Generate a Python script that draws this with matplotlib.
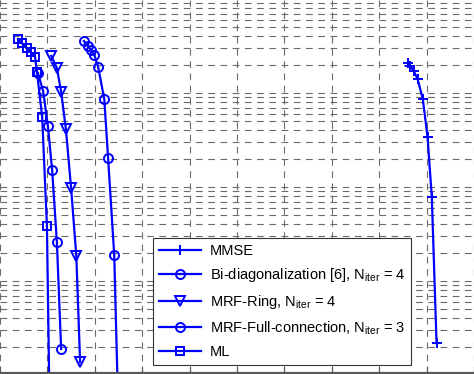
import matplotlib
matplotlib.use("Agg")
import matplotlib.pyplot as plt
from matplotlib.ticker import LogLocator, MultipleLocator, NullFormatter

plt.rcParams['font.family'] = ['Liberation Sans', 'DejaVu Sans']
plt.rcParams['mathtext.fontset'] = 'custom'
plt.rcParams['mathtext.rm'] = 'Liberation Sans'
plt.rcParams['mathtext.it'] = 'Liberation Sans:italic'

# ---- data (x: SNR-like axis, y: error rate) ----
mmse_x = [8.60, 8.66, 8.73, 8.81, 8.92, 9.02, 9.11, 9.21]
mmse_y = [2.08e-2, 1.94e-2, 1.71e-2, 1.41e-2, 8.63e-3, 3.40e-3, 7.83e-4, 2.19e-5]

bidiag_x = [1.77, 1.86, 1.92, 1.99, 2.07, 2.20, 2.28, 2.41, 2.50]
bidiag_y = [3.57e-2, 3.16e-2, 2.87e-2, 2.54e-2, 1.89e-2, 8.63e-3, 2.04e-3, 1.89e-4, 3.3e-6]

ring_x = [1.08, 1.20, 1.29, 1.39, 1.50, 1.61, 1.69]
ring_y = [2.48e-2, 1.85e-2, 1.03e-2, 4.14e-3, 9.76e-4, 1.85e-4, 1.37e-5]

full_x = [0.80, 0.91, 1.01, 1.10, 1.20, 1.29]
full_y = [1.63e-2, 1.05e-2, 4.46e-3, 1.52e-3, 2.60e-4, 1.89e-5]

ml_x = [0.38, 0.46, 0.57, 0.65, 0.74, 0.78, 0.89, 0.99, 1.05]
ml_y = [3.75e-2, 3.40e-2, 3.01e-2, 2.73e-2, 2.42e-2, 1.67e-2, 5.56e-3, 3.85e-4, 3.3e-6]

labels = ["MMSE",
          r"Bi-diagonalization [6], N$_{\mathrm{iter}}$ = 4",
          r"MRF-Ring, N$_{\mathrm{iter}}$ = 4",
          r"MRF-Full-connection, N$_{\mathrm{iter}}$ = 3",
          "ML"]

fig = plt.figure(figsize=(4.74, 3.74), dpi=100)
ax = fig.add_axes([0, 1/374, 1, 1 - 1/374])
blue = (0, 0, 1)
common = dict(color=blue, lw=1.6, mfc='none', mec=blue, mew=1.4)

ax.plot(mmse_x, mmse_y, marker='+', ms=7, label=labels[0], **common)
ax.plot(bidiag_x, bidiag_y, marker='o', ms=6.5, label=labels[1], **common)
ax.plot(ring_x, ring_y, marker='v', ms=7, label=labels[2], **common)
ax.plot(full_x, full_y, marker='o', ms=6.5, label=labels[3], **common)
ax.plot(ml_x, ml_y, marker='s', ms=6, label=labels[4], **common)

ax.set_yscale('log')
ax.set_xlim(0, 10)
ax.set_ylim(10 ** (-1 - 374 / 94), 10 ** (-1 - 1 / 94))
ax.xaxis.set_major_locator(MultipleLocator(1))
ax.yaxis.set_major_locator(LogLocator(base=10, numticks=20))
ax.yaxis.set_minor_locator(LogLocator(base=10, subs=range(2, 10), numticks=50))
ax.yaxis.set_minor_formatter(NullFormatter())
ax.set_xticklabels([])
ax.set_yticklabels([])
ax.tick_params(which='both', direction='in', colors='0.35', length=5, width=0.8)
ax.tick_params(axis='y', which='both', length=0)

grid_kw = dict(color='0.42', linestyle=(0, (6, 5)), linewidth=0.8)
ax.grid(True, which='major', axis='both', **grid_kw)
ax.grid(True, which='minor', axis='y', **grid_kw)
ax.set_axisbelow(True)

for s in ['left', 'top', 'right']:
    ax.spines[s].set_visible(False)
ax.spines['bottom'].set_color('0.35')
ax.spines['bottom'].set_linewidth(1.6)

leg = ax.legend(loc='lower left', bbox_to_anchor=(153 / 474, 8 / 373),
                borderaxespad=0, fontsize=10.5, handlelength=2.9,
                labelspacing=0.58, fancybox=False, framealpha=1,
                edgecolor='0.2', borderpad=0.4, handletextpad=0.6)
leg.get_frame().set_linewidth(0.8)

fig.savefig("out.png", dpi=100)
